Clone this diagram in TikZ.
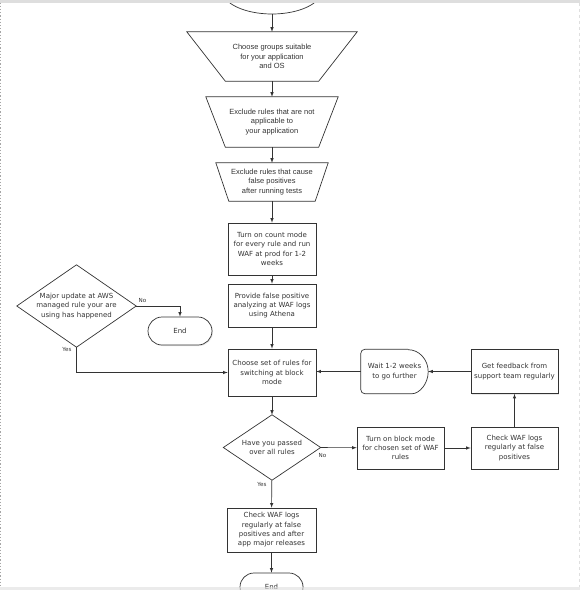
\documentclass[tikz,border=0pt]{standalone}
\usepackage{fontspec}
\setmainfont{DejaVu Sans}
\newfontfamily\trapfont{Liberation Sans}
\usetikzlibrary{arrows}
\usetikzlibrary{shapes.geometric}
\usetikzlibrary{shadows}
\tikzset{>=latex}
\definecolor{linecol}{RGB}{51,51,51}
\definecolor{framecol}{RGB}{222,222,222}
\def\linethickness{0.7pt}
\tikzset{
    box/.style={draw=linecol, line width=\linethickness, fill=white, align=center, inner sep=1pt,
        text=linecol, font=\fontsize{7}{9.3}\selectfont,
        drop shadow={opacity=0.18, shadow xshift=1pt, shadow yshift=-1pt}},
    plain/.style={align=center, inner sep=0pt, text=linecol, font=\fontsize{7}{9.3}\selectfont},
    trap/.style={align=center, inner sep=0pt, text=linecol, font=\trapfont\fontsize{7.5}{9.3}\selectfont},
    outline/.style={draw=linecol, line width=\linethickness},
    flow/.style={->, draw=linecol, line width=0.6pt},
    lbl/.style={inner sep=0pt, text=linecol, font=\fontsize{5.6}{6}\selectfont}
}

\begin{document}
\begin{tikzpicture}[x=1pt, y=1pt]
    \useasboundingbox (0, 0) rectangle (580, -590);
    \clip (0, 0) rectangle (580, -590);

    \node[ellipse, draw=linecol, line width=\linethickness, minimum width=100pt, minimum height=48pt] (start) at (272, 10) {};

    \node[trap, minimum width=170pt, minimum height=49pt] (groups) at (272, -56.5) {Choose groups suitable\\for your application\\and OS};
    \draw[outline] (groups.north west) -- (groups.north east) -- ([xshift=-38.5pt]groups.south east) -- ([xshift=38.5pt]groups.south west) -- cycle;
    \node[trap, minimum width=132pt, minimum height=50pt] (exclude) at (272, -122) {Exclude rules that are not\\applicable to\\your application};
    \draw[outline] (exclude.north west) -- (exclude.north east) -- ([xshift=-19.5pt]exclude.south east) -- ([xshift=19.5pt]exclude.south west) -- cycle;
    \node[trap, minimum width=112pt, minimum height=38pt] (falsepos) at (272, -182) {Exclude rules that cause\\false positives\\after running tests};
    \draw[outline] (falsepos.north west) -- (falsepos.north east) -- ([xshift=-13pt]falsepos.south east) -- ([xshift=13pt]falsepos.south west) -- cycle;

    \node[box, minimum width=88pt, minimum height=52pt] (count) at (272, -249) {Turn on count mode\\for every rule and run\\WAF at prod for 1-2\\weeks};
    \node[box, minimum width=88pt, minimum height=43pt] (athena) at (272, -305.5) {Provide false positive\\analyzing at WAF logs\\using Athena};
    \node[box, minimum width=88pt, minimum height=47pt] (choose) at (272, -372.5) {Choose set of rules for\\switching at block\\mode};

    \node[plain, minimum width=97pt, minimum height=65pt] (passed) at (272, -447.5) {Have you passed\\over all rules};
    \draw[outline] (passed.north) -- (passed.east) -- (passed.south) -- (passed.west) -- cycle;
    \node[box, minimum width=89pt, minimum height=44pt] (release) at (271.5, -530) {Check WAF logs\\regularly at false\\positives and after\\app major releases};
    \node[box, rounded corners=14pt, minimum width=63pt, minimum height=28pt] (finish) at (271.5, -587) {End};

    \node[plain, minimum width=119pt, minimum height=82pt] (major) at (76.5, -306) {Major update at AWS\\managed rule your are\\using has happened};
    \draw[outline] (major.north) -- (major.east) -- (major.south) -- (major.west) -- cycle;
    \node[box, rounded corners=14pt, minimum width=64pt, minimum height=28pt] (stop) at (180, -331) {End};

    \node[plain, minimum width=67pt, minimum height=44pt] (wait) at (394.5, -371.5) {Wait 1-2 weeks\\to go further};
    \draw[outline, rounded corners=4pt] ([xshift=-20pt]wait.north east) -- (wait.north west) -- (wait.south west) -- ([xshift=-20pt]wait.south east) arc[start angle=-90, end angle=90, x radius=20pt, y radius=22pt];
    \node[box, minimum width=87pt, minimum height=44pt] (feedback) at (514.5, -371.5) {Get feedback from\\support team regularly};
    \node[box, minimum width=87pt, minimum height=42pt] (checklogs) at (514.5, -448) {Check WAF logs\\regularly at false\\positives};
    \node[box, minimum width=87pt, minimum height=42pt] (block) at (400.5, -448) {Turn on block mode\\for chosen set of WAF\\rules};

    \draw[flow] (start) -- (groups);
    \draw[flow] (groups) -- (exclude);
    \draw[flow] (exclude) -- (falsepos);
    \draw[flow] (falsepos) -- (count);
    \draw[flow] (count) -- (athena);
    \draw[flow] (athena) -- (choose);
    \draw[flow] (choose) -- (passed);
    \draw[flow] (passed) -- (release);
    \draw[flow] (release) -- (finish);
    \draw[flow] (passed.east) -- (block);
    \draw[flow] (block) -- (checklogs);
    \draw[flow] (checklogs) -- (feedback);
    \draw[flow] (feedback) -- (wait);
    \draw[flow] (wait.west) -- (wait.west -| choose.east);
    \draw[flow] (major.east) -| (stop.north);
    \draw[flow] (major.south) |- (choose.west);

    \node[lbl] (nomajor) at (142.5, -300) {No};
    \node[lbl] (yesmajor) at (67, -349.5) {Yes};
    \node[lbl] (nopassed) at (322.5, -455.5) {No};
    \node[lbl] (yespassed) at (262, -484.5) {Yes};

    \fill[framecol] (0, 0) rectangle (580, -2.5);
    \fill[framecol, fill opacity=0.6] (0, -587) rectangle (580, -590);
    \draw[gray!70, dotted, line width=1.2pt] (0.7, -2.5) -- (0.7, -587);
    \draw[gray!25, dashed, line width=0.8pt] (579.3, -2.5) -- (579.3, -587);
\end{tikzpicture}
\end{document}
